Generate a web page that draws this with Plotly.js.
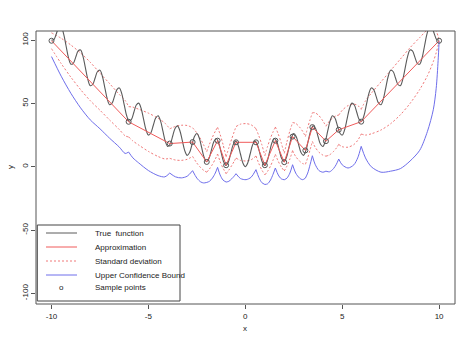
<!DOCTYPE html>
<html>
<head>
<meta charset="utf-8">
<script src="https://cdn.plot.ly/plotly-3.0.1.min.js"></script>
<style>html,body{margin:0;padding:0;background:#fff;}#chart{width:474px;height:355px;}</style>
</head>
<body>
<div id="chart"></div>
<script>
// True function, read at steps of 0.125 from -10 to 10
const trueX = [];
for (let i = 0; i <= 160; i++) trueX.push(-10 + i * 0.125);
const trueY = [
100,100.45,105.06,109.71,110.25,104.96,95.56,86.20,
81,81.70,86.56,91.46,92.25,87.21,78.06,68.95,
64,64.95,70.06,75.21,76.25,71.46,62.56,53.70,
49,50.20,55.56,60.96,62.25,57.71,49.06,40.45,
36,37.45,43.06,48.71,50.25,45.96,37.56,29.20,
25,26.70,32.56,38.46,40.25,36.21,28.06,19.95,
16,17.95,24.06,30.21,32.25,28.46,20.56,12.70,
9,11.20,17.56,23.96,26.25,22.71,15.06,7.45,
4,6.45,13.06,19.71,22.25,18.96,11.56,4.20,
1,3.70,10.56,17.46,20.25,17.21,10.06,2.95,
0,2.95,10.06,17.21,20.25,17.46,10.56,3.70,
1,4.20,11.56,18.96,22.25,19.71,13.06,6.45,
4,7.45,15.06,22.71,26.25,23.96,17.56,11.20,
9,12.70,20.56,28.46,32.25,30.21,24.06,17.95,
16,19.95,28.06,36.21,40.25,38.46,32.56,26.70,
25,29.20,37.56,45.96,50.25,48.71,43.06,37.45,
36,40.45,49.06,57.71,62.25,60.96,55.56,50.20,
49,53.70,62.56,71.46,76.25,75.21,70.06,64.95,
64,68.95,78.06,87.21,92.25,91.46,86.56,81.70,
81,86.20,95.56,104.96,110.25,109.71,105.06,100.45,
100
];
// Sample points (the approximation joins them)
const sampleX = [-10,-6.02,-3.9,-2.72,-1.99,-1.43,-0.99,-0.48,0.55,1.01,1.55,2.01,2.44,3.1,3.46,4.16,4.82,5.98,10];
const sampleY = [99.5,35.5,18.3,19.5,3.8,20.6,1.2,19.3,19.3,1.2,20.6,3.6,23.8,12.9,31.3,20.2,29.2,35.6,99.5];

// Band / bound curves, one piece between each pair of sample points (null = break)
const bandX = [
-10,-9.5,-9,-8.5,-8,-7.5,-7,-6.5,-6.2,-6.02,null,
-6.02,-5.8,-5.5,-5.0,-4.5,-4.15,-3.9,null,
-3.9,-3.6,-3.3,-3.0,-2.72,null,
-2.72,-2.5,-2.3,-2.15,-1.99,null,
-1.99,-1.85,-1.7,-1.55,-1.43,null,
-1.43,-1.3,-1.15,-0.99,null,
-0.99,-0.85,-0.7,-0.58,-0.48,null,
-0.48,-0.25,0.04,0.3,0.55,null,
0.55,0.7,0.85,1.01,null,
1.01,1.15,1.3,1.43,1.55,null,
1.55,1.7,1.85,2.01,null,
2.01,2.15,2.3,2.44,null,
2.44,2.6,2.8,2.96,3.1,null,
3.1,3.22,3.34,3.46,null,
3.46,3.6,3.8,4.0,4.16,null,
4.16,4.35,4.55,4.7,4.82,null,
4.82,5.0,5.3,5.6,5.8,5.98,null,
5.98,6.2,6.5,7.0,7.5,8.0,8.5,9.0,9.4,9.7,9.85,9.95,10
];
const ucbY = [
87,71.5,58,46.5,37,30,22.5,15.5,10.5,11.6,null,
11.6,7,3,-3,-7,-8,-5,null,
-5,-8,-8.8,-7.5,-3.1,null,
-3.1,-9,-12,-12.8,-12.4,null,
-12.4,-11.5,-9,-5,-0.5,null,
-0.5,-6.5,-10.5,-12.1,null,
-12.1,-11.5,-9.5,-7.5,-5.5,null,
-5.5,-9.3,-10.2,-8.3,-2.3,null,
-2.3,-8.5,-12.5,-14,null,
-14,-13.5,-10.5,-6,-1.0,null,
-1.0,-6.5,-9.5,-10.3,null,
-10.3,-9,-5,1.6,null,
1.6,-5,-9,-10.2,-9,null,
-9,-5,1.5,8.7,null,
8.7,2,-3,-4.3,-3.5,null,
-3.5,-4,-1.5,2,6.1,null,
6.1,1.5,-1.0,1.5,7,16.1,null,
16.1,7,0,-4.3,-3.5,-1.5,4.5,13,28,45,62,84,99
];
const sdUp = [
105.75,101.44,96.13,89.82,82.51,73.95,65.64,57.08,52.34,47.45,null,
47.45,47.08,45.42,42.35,38.26,34.5,29.95,null,
29.95,31.9,32.77,32.58,30.8,null,
30.8,26.66,21.71,17.26,11.9,null,
11.9,17.75,23.25,28.0,31.15,null,
31.15,25.56,17.64,7.85,null,
7.85,15.01,22.0,27.38,31.7,null,
31.7,33.6,34.05,33.1,30.1,null,
30.1,24.35,17.5,8.8,null,
8.8,16.1,22.68,27.44,31.4,null,
31.4,25.84,19.01,10.55,null,
10.55,19.77,28.33,34.9,null,
34.9,34.24,31.29,27.93,23.85,null,
23.85,31.05,37.01,42.6,null,
42.6,42.62,40.37,36.26,32.05,null,
32.05,36.19,39.03,40.34,40.75,null,
40.75,44.54,48.28,49.5,48.41,45.35,null,
45.35,52,58,67,76,85,94,102,108,109,107,103,99.75
];
const sdLo = [
93.25,81.48,70.71,60.94,52.17,44.65,36.88,29.36,24.44,23.55,null,
23.55,20.36,17.14,12.11,8.08,6.16,6.65,null,
6.65,5.3,5.05,5.86,8.2,null,
8.2,2.88,-0.77,-2.78,-4.3,null,
-4.3,-1.75,1.75,6.0,10.05,null,
10.05,4.18,-1.12,-5.45,null,
-5.45,-2.67,1.0,4.12,6.9,null,
6.9,5.0,4.55,5.5,8.5,null,
8.5,2.45,-2.5,-6.4,null,
-6.4,-3.64,0.56,5.14,9.8,null,
9.8,4.28,0.01,-3.35,null,
-3.35,0.59,6.11,12.7,null,
12.7,8.08,4.43,2.51,1.95,null,
1.95,7.01,13.33,20.0,null,
20.0,15.54,11.45,9.22,8.35,null,
8.35,9.39,12.01,14.78,17.65,null,
17.65,15.84,15.42,17.5,20.81,25.85,null,
25.85,25,26,29,34,41,50,61,72,83,90,96,99.25
];

const xTicks = [-10,-5,0,5,10];
const yTicks = [-100,-50,0,50,100];
const legendLabels = ["True  function","Approximation","Standard deviation","Upper Confidence Bound","Sample points"];

const cTrue = '#5a5a5a', cRed = 'rgb(240,90,90)', cDot = 'rgb(240,120,120)', cBlue = 'rgb(110,110,235)';

const traces = [
  {x: bandX, y: sdUp, mode:'lines', connectgaps:false, line:{color:cDot, width:1, dash:'2px,2px', shape:'spline', smoothing:0.8}},
  {x: bandX, y: sdLo, mode:'lines', connectgaps:false, line:{color:cDot, width:1, dash:'2px,2px', shape:'spline', smoothing:0.8}},
  {x: bandX, y: ucbY, mode:'lines', connectgaps:false, line:{color:cBlue, width:1, shape:'spline', smoothing:0.8}},
  {x: trueX, y: trueY, mode:'lines', line:{color:cTrue, width:1.1, shape:'spline', smoothing:1}},
  {x: sampleX, y: sampleY, mode:'lines', line:{color:cRed, width:1}},
  {x: sampleX, y: sampleY, mode:'markers', marker:{symbol:'circle-open', size:5, color:'#555', line:{width:1}}}
];

const fnt = {family:'Liberation Sans, Arial, sans-serif', size:8, color:'#222'};
const legY = [233,247,261,275,287];
const H = 355, W = 474;
const L = 36, R = 455, T = 31, B = 304;
const toPX = x => (x - L) / (R - L);
const toPY = y => (B - y) / (B - T);
const shapes = [];
const annotations = [];
shapes.push({type:'rect', xref:'paper', yref:'paper', x0:0, x1:1, y0:0, y1:1, line:{color:'#555', width:1}});
shapes.push({type:'rect', xref:'paper', yref:'paper', x0:toPX(37.3), x1:toPX(180), y0:toPY(301), y1:toPY(225), line:{color:'#444', width:1}, fillcolor:'white', layer:'above'});
const legColors = [cTrue, cRed, cDot, cBlue];
for (let i = 0; i < 4; i++) {
  shapes.push({type:'line', xref:'paper', yref:'paper', x0:toPX(46), x1:toPX(77), y0:toPY(legY[i]), y1:toPY(legY[i]), line:{color:legColors[i], width:1, dash: i===2?'2px,2px':'solid'}, layer:'above'});
}
for (let i = 0; i < 5; i++) {
  annotations.push({xref:'paper', yref:'paper', x:toPX(93), y:toPY(legY[i]), text:legendLabels[i], showarrow:false, xanchor:'left', yanchor:'middle', font:fnt});
}
annotations.push({xref:'paper', yref:'paper', x:toPX(61), y:toPY(287), text:'o', showarrow:false, xanchor:'center', yanchor:'middle', font:fnt});
annotations.push({xref:'paper', yref:'paper', x:toPX(245), y:toPY(328), text:'x', showarrow:false, xanchor:'center', yanchor:'middle', font:fnt});
annotations.push({xref:'paper', yref:'paper', x:toPX(10), y:toPY(167), text:'y', showarrow:false, xanchor:'center', yanchor:'middle', textangle:-90, font:fnt});

const layout = {
  width: W, height: H,
  margin: {l: L, r: W - R, t: T, b: H - B, pad: 0},
  paper_bgcolor: 'white', plot_bgcolor: 'white',
  showlegend: false,
  font: fnt,
  xaxis: {range:[-10.8,10.82], tickvals:xTicks, ticktext:xTicks.map(String), ticks:'outside', ticklen:4, tickcolor:'#555', showgrid:false, zeroline:false, showline:false, tickfont:fnt},
  yaxis: {range:[-108.4,107.2], tickvals:yTicks, ticktext:yTicks.map(String), ticks:'outside', ticklen:4, tickcolor:'#555', showgrid:false, zeroline:false, showline:false, tickangle:-90, tickfont:fnt},
  shapes: shapes,
  annotations: annotations
};
Plotly.newPlot('chart', traces, layout, {staticPlot:true});
</script>
</body>
</html>
